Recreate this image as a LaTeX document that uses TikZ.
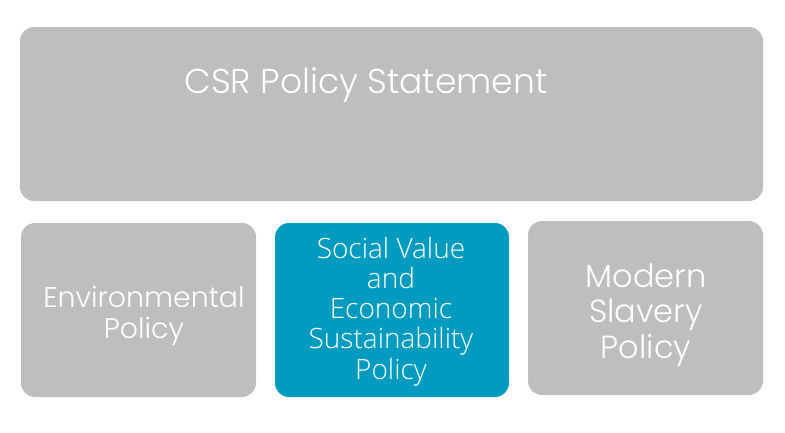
\documentclass[tikz,border=0pt]{standalone}
\usepackage{fontspec}
\setmainfont{Poppins}[UprightFont=* Light]
\newfontfamily\midfont{Open Sans}[UprightFont=* Light]
\usepackage{tikz}

\definecolor{boxgrey}{RGB}{190,190,190}
\definecolor{boxteal}{RGB}{0,155,190}

\begin{document}
\begin{tikzpicture}[x=1pt,y=-1pt,
    policybox/.style={rounded corners=14pt,minimum width=235pt,minimum height=174pt,inner sep=0pt,fill=boxgrey},
    policytext/.style={text=white,align=center,inner sep=0pt}]
      \useasboundingbox (0,0) rectangle (785,432);
      \node[policybox,minimum width=743pt] (csr) at (391.5,114) {};
      \node[policybox] (env) at (138.5,310) {};
      \node[policybox,fill=boxteal,minimum width=234pt] (social) at (392,310) {};
      \node[policybox] (slavery) at (645.5,308) {};
      \node[policytext,font=\fontsize{34.5}{40}\selectfont] (csrtext) at (366,85) {CSR Policy Statement};
      \node[policytext,font=\fontsize{28.4}{31}\selectfont] (envtext) at (144,316) {Environmental\\Policy};
      \node[policytext,font=\midfont\fontsize{28}{30.2}\selectfont] (socialtext) at (391,311.5) {Social Value\\and\\Economic\\Sustainability\\Policy};
      \node[policytext,font=\fontsize{32}{35.5}\selectfont] (slaverytext) at (646,315) {Modern\\Slavery\\Policy};
    \end{tikzpicture}
\end{document}
